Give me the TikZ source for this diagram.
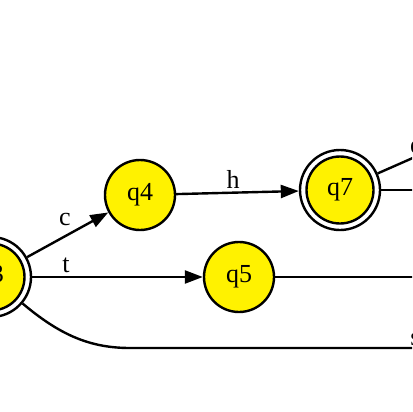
\documentclass[tikz,border=0pt]{standalone}
\usepackage{fontspec}
\setmainfont{Liberation Serif}
\usetikzlibrary{arrows.meta}
\begin{document}
\begin{tikzpicture}[x=1pt,y=-1pt,
  lw/.style={line width=2.4pt},
  txt/.style={font=\fontsize{26}{30}\selectfont},
  state/.style={circle, draw, lw, fill=yellow, minimum size=70pt, inner sep=0pt, txt},
  accepting/.style={circle, draw, lw, minimum size=80pt, inner sep=0pt, txt,
    path picture={\draw[lw, fill=yellow] (path picture bounding box.center) circle (33.5pt);}},
  edge/.style={lw, -{Triangle[length=18pt,width=13pt]}},
  plain/.style={lw},
  lbl/.style={txt, anchor=base, inner sep=0pt}]
\useasboundingbox (0,0) rectangle (412,412);
\clip (0,0) rectangle (412,412);
\node[accepting] (q3) at (-9,277) {q3};
\node[state] (q4) at (140,195) {q4};
\node[accepting] (q7) at (340,190) {q7};
\node[state] (q5) at (239,277) {q5};
\coordinate (e5) at (440,277);
\coordinate (e7a) at (440,190);
\coordinate (e7b) at (440,146);
\coordinate (e3) at (440,348);
\draw[edge] (q3) -- (q4);
\draw[edge] (q3) -- (q5);
\draw[edge] (q4) -- (q7);
\draw[plain] (q5) -- (e5);
\draw[plain] (q7) -- (e7a);
\draw[plain] (q7) -- (e7b);
\draw[plain] (q3.-40) .. controls (60,335) and (90,348) .. (130,348) -- (e3);
\node[lbl] (lc) at (65,225) {c};
\node[lbl] (lt) at (66,272) {t};
\node[lbl] (lh) at (233,188) {h};
\node[lbl] (le) at (416,153) {e};
\node[lbl] (ls) at (415.5,345) {s};
\end{tikzpicture}
\end{document}
